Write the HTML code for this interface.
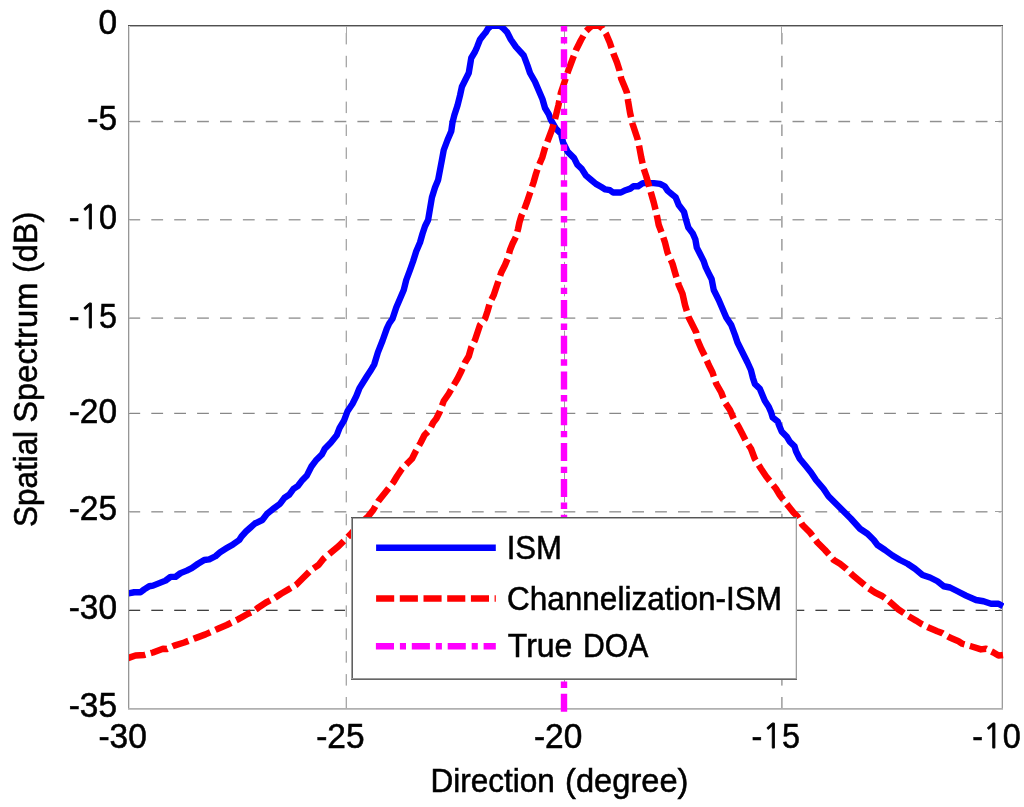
<!DOCTYPE html>
<html><head><meta charset="utf-8"><title>Spatial Spectrum</title>
<style>html,body{margin:0;padding:0;background:#fff;width:1024px;height:807px;overflow:hidden}svg{display:block}text{font-family:'Liberation Sans', Arial, Helvetica, sans-serif;fill:#000;stroke:#000;stroke-width:0.55px}</style>
</head><body>
<svg width="1024" height="807" viewBox="0 0 1024 807">
<rect x="0" y="0" width="1024" height="807" fill="#fff"/>
<defs><clipPath id="ax"><rect x="129" y="26" width="875" height="683"/></clipPath><clipPath id="axm"><rect x="129" y="26" width="873" height="686"/></clipPath></defs>
<rect x="128" y="25" width="1" height="684" fill="#969696"/>
<rect x="129" y="26" width="1" height="682" fill="#dedede"/>
<rect x="1002" y="25" width="1" height="684" fill="#9c9c9c"/>
<rect x="1001" y="26" width="1" height="682" fill="#dedede"/>
<rect x="128" y="25" width="875" height="1" fill="#505050"/>
<rect x="130" y="26" width="871" height="1" fill="#b2b2b2"/>
<rect x="128" y="708" width="875" height="1" fill="#b0b0b0"/>
<rect x="128" y="709" width="875" height="1" fill="#c4c4c4"/>
<g stroke-width="1" fill="none"><line x1="129" y1="121.5" x2="136" y2="121.5" stroke="#909090"/><line x1="1002" y1="121.5" x2="995" y2="121.5" stroke="#909090"/><line x1="129" y1="219.5" x2="136" y2="219.5" stroke="#a0a0a0"/><line x1="1002" y1="219.5" x2="995" y2="219.5" stroke="#a0a0a0"/><line x1="129" y1="318.5" x2="136" y2="318.5" stroke="#a8a8a8"/><line x1="1002" y1="318.5" x2="995" y2="318.5" stroke="#a8a8a8"/><line x1="129" y1="413.5" x2="136" y2="413.5" stroke="#888888"/><line x1="1002" y1="413.5" x2="995" y2="413.5" stroke="#888888"/><line x1="129" y1="511.5" x2="136" y2="511.5" stroke="#a0a0a0"/><line x1="1002" y1="511.5" x2="995" y2="511.5" stroke="#a0a0a0"/><line x1="129" y1="610.5" x2="136" y2="610.5" stroke="#404040"/><line x1="1002" y1="610.5" x2="995" y2="610.5" stroke="#404040"/><line x1="346.5" y1="708" x2="346.5" y2="701" stroke="#a8a8a8"/><line x1="346.5" y1="26" x2="346.5" y2="33" stroke="#a8a8a8"/><line x1="564.5" y1="708" x2="564.5" y2="701" stroke="#a0a0a0"/><line x1="564.5" y1="26" x2="564.5" y2="33" stroke="#a0a0a0"/><line x1="781.5" y1="708" x2="781.5" y2="701" stroke="#a8a8a8"/><line x1="781.5" y1="26" x2="781.5" y2="33" stroke="#a8a8a8"/></g>
<g stroke-width="1" stroke-dasharray="11.8 11.1" stroke-dashoffset="0.6" fill="none"><line x1="129" y1="121.5" x2="1001" y2="121.5" stroke="#909090"/><line x1="129" y1="120.5" x2="1001" y2="120.5" stroke="#e8e8e8"/><line x1="129" y1="122.5" x2="1001" y2="122.5" stroke="#e2e2e2"/><line x1="129" y1="219.5" x2="1001" y2="219.5" stroke="#a0a0a0"/><line x1="129" y1="220.5" x2="1001" y2="220.5" stroke="#d0d0d0"/><line x1="129" y1="318.5" x2="1001" y2="318.5" stroke="#a8a8a8"/><line x1="129" y1="317.5" x2="1001" y2="317.5" stroke="#c0c0c0"/><line x1="129" y1="413.5" x2="1001" y2="413.5" stroke="#888888"/><line x1="129" y1="412.5" x2="1001" y2="412.5" stroke="#e2e2e2"/><line x1="129" y1="511.5" x2="1001" y2="511.5" stroke="#a0a0a0"/><line x1="129" y1="512.5" x2="1001" y2="512.5" stroke="#c8c8c8"/><line x1="129" y1="610.5" x2="1001" y2="610.5" stroke="#404040"/><line x1="129" y1="609.5" x2="1001" y2="609.5" stroke="#c0c0c0"/></g>
<g stroke-width="1" stroke-dasharray="11.5 11.4" stroke-dashoffset="0.5" fill="none"><line x1="346.5" y1="708" x2="346.5" y2="26" stroke="#a8a8a8"/><line x1="345.5" y1="708" x2="345.5" y2="26" stroke="#e0e0e0"/><line x1="564.5" y1="708" x2="564.5" y2="26" stroke="#a0a0a0"/><line x1="781.5" y1="708" x2="781.5" y2="26" stroke="#a8a8a8"/><line x1="782.5" y1="708" x2="782.5" y2="26" stroke="#c0c0c0"/></g>
<g clip-path="url(#ax)" fill="none" stroke-linejoin="round">
<polyline points="128.00,593.50 134.25,592.25 140.50,592.25 144.25,589.40 149.25,586.25 153.00,585.60 159.25,583.10 165.50,580.60 170.50,576.90 175.50,576.90 180.50,573.10 186.75,570.60 191.75,568.10 198.00,563.75 204.25,560.00 209.25,559.40 215.50,556.25 220.50,551.90 226.75,548.10 233.00,544.40 239.25,540.00 241.50,536.50 246.00,531.50 250.50,527.50 254.90,523.50 262.30,520.00 266.80,514.10 274.20,508.10 280.10,503.70 284.60,497.70 289.10,494.80 293.50,488.80 298.00,485.80 302.50,479.90 306.90,475.40 311.40,466.50 315.80,460.60 321.80,454.60 324.80,448.70 330.70,442.70 336.70,435.30 339.60,427.80 344.10,420.40 347.50,411.25 352.50,403.75 356.25,396.25 358.75,390.00 359.50,388.10 366.90,376.20 371.00,370.00 374.30,364.30 377.90,352.40 382.60,340.50 386.80,328.60 389.20,323.50 392.50,318.75 396.25,307.50 400.00,298.75 403.75,290.00 406.25,280.00 410.00,270.00 413.10,261.25 416.25,251.25 420.00,242.50 422.50,233.75 425.00,226.25 428.10,220.00 430.00,208.75 431.90,197.50 435.00,187.50 438.10,180.00 440.00,170.00 441.90,160.00 443.75,150.00 447.50,140.00 451.25,131.25 452.50,122.50 454.40,115.00 457.50,105.50 460.00,95.50 461.90,86.75 465.00,80.50 468.75,73.00 470.00,65.50 471.25,58.00 475.00,51.75 477.10,46.90 480.00,39.50 483.50,35.00 485.90,32.20 488.00,28.50 491.00,25.80 500.00,25.80 503.50,28.50 507.10,32.20 510.80,39.50 515.90,46.90 523.75,55.50 527.50,65.50 530.00,73.00 535.00,81.75 538.75,90.50 542.50,99.25 545.00,108.00 548.75,114.25 551.00,120.00 556.00,128.75 561.00,133.75 563.10,142.50 567.80,151.90 574.10,158.10 577.20,164.40 581.90,169.10 585.80,175.30 591.25,180.00 595.90,183.90 601.40,187.00 605.30,189.40 610.00,190.20 613.10,192.50 620.90,192.50 625.60,190.20 630.30,188.60 633.40,186.25 638.10,186.25 642.80,183.10 647.50,183.10 653.75,183.10 660.00,183.90 664.70,186.25 667.80,190.90 672.50,194.80 675.60,197.20 678.75,205.00 684.00,211.90 686.00,219.80 688.40,227.70 692.90,233.70 695.40,239.60 696.80,247.60 699.80,253.50 703.80,261.40 705.80,267.40 708.70,273.30 711.70,279.30 713.75,290.00 718.75,300.00 722.50,308.75 726.25,317.50 731.25,325.00 735.00,335.00 737.50,342.50 742.50,352.50 747.50,362.50 750.90,370.00 752.90,377.90 754.90,383.90 759.80,388.80 762.30,394.80 764.80,400.70 768.70,406.70 771.20,412.60 772.70,417.60 777.70,421.50 779.60,426.50 781.60,431.40 786.60,436.40 789.60,441.40 794.50,446.30 796.00,451.25 799.75,458.75 806.00,466.25 811.00,472.50 816.00,480.00 823.50,488.75 828.50,496.25 836.00,503.75 843.50,511.25 851.00,518.75 860.00,528.75 867.50,533.75 873.75,540.00 877.50,545.00 885.00,550.00 892.50,555.50 900.00,560.00 907.50,563.75 915.00,568.75 922.50,575.00 930.00,577.50 937.50,581.25 943.75,586.25 950.00,587.50 957.50,591.25 966.00,595.60 976.00,600.00 983.50,601.25 991.00,603.75 998.50,603.75 1003.00,606.25" stroke="#0000ff" stroke-width="6.4" stroke-linecap="butt"/>
<path d="M128.00 658.10 L135.50 655.50 L144.25 655.00 L145.35 654.68 M150.74 653.15 L153.00 652.50 L163.00 648.75 L166.75 649.00 L167.40 648.70 M172.50 646.39 L174.25 645.60 L184.25 642.50 L188.43 640.86 M193.65 638.82 L195.50 638.10 L205.50 634.40 L210.33 632.22 M215.43 629.91 L218.00 628.75 L226.75 625.00 L231.25 622.76 M236.26 620.27 L238.00 619.40 L248.00 613.75 L250.92 612.44 M255.68 609.55 L258.50 607.50 L266.00 602.50 L270.18 600.41 M275.07 597.71 L281.00 593.75 L288.50 589.40 L290.82 588.04 M295.65 585.21 L296.00 585.00 L303.50 577.50 L309.17 571.83 M313.50 568.33 L318.50 565.00 L323.50 558.75 L324.94 557.55 M329.24 553.97 L331.00 552.50 L338.50 546.25 L343.82 540.93 M347.78 536.97 L351.00 533.75 L360.00 524.00 L360.03 523.97 M364.11 520.14 L368.25 516.25 L373.25 510.00 L375.33 506.36 M378.11 501.50 L378.25 501.25 L383.25 495.00 L388.25 488.75 L388.70 488.19 M392.19 483.82 L393.25 482.50 L397.00 476.25 L402.00 468.75 L402.20 468.55 M406.15 464.60 L407.00 463.75 L412.00 458.75 L415.75 451.25 L416.28 450.32 M419.06 445.45 L420.75 442.50 L424.50 435.00 L427.90 431.60 M430.99 427.02 L433.25 422.50 L436.25 418.75 L440.00 411.25 L440.10 410.97 M442.03 405.71 L443.75 401.00 L448.75 393.75 L451.09 389.66 M453.87 384.80 L457.50 378.75 L461.25 371.25 L462.48 368.38 M464.69 363.23 L465.00 362.50 L468.75 356.25 L471.25 347.50 L471.61 346.78 M474.11 341.78 L475.00 340.00 L477.50 332.50 L480.00 325.00 L480.68 324.15 M484.18 319.78 L485.00 318.75 L487.50 311.25 L489.38 304.68 M491.49 299.52 L493.75 295.00 L496.25 287.50 L498.36 281.16 M500.14 275.84 L501.25 272.50 L505.00 265.00 L507.49 258.97 M509.09 253.61 L510.00 250.00 L512.50 243.75 L515.80 237.15 M517.35 231.79 L518.10 228.75 L519.40 222.50 L521.25 216.25 L522.17 214.15 M524.37 209.01 L527.25 201.25 L529.75 193.75 L530.29 192.12 M532.07 186.80 L533.50 182.50 L536.00 173.75 L537.42 169.49 M539.36 164.24 L542.25 157.50 L544.75 148.75 L545.35 147.15 M547.32 141.90 L548.50 138.75 L552.25 128.75 L553.49 124.41 M555.00 119.02 L558.50 105.00 L559.35 100.73 M560.45 95.24 L561.00 92.50 L564.75 81.25 L565.64 78.58 M567.41 73.27 L568.50 70.00 L572.25 60.00 L573.81 55.83 M575.78 50.58 L576.00 50.00 L581.00 40.00 L583.43 35.75 M586.29 30.96 L589.00 28.20 L592.00 25.80 L599.00 25.80 L602.50 28.50 L602.53 28.55 M605.64 33.21 L606.00 33.75 L609.75 42.50 L611.57 47.96 M613.34 53.27 L613.50 53.75 L617.00 62.50 L619.40 70.00 L619.58 70.85 M620.74 76.33 L621.25 78.75 L624.40 86.25 L626.90 92.50 L627.04 93.49 M627.80 99.04 L628.10 101.25 L630.00 112.50 L631.07 117.32 M632.29 122.78 L632.50 123.75 L635.00 131.25 L637.50 138.75 L637.81 140.17 M639.00 145.64 L639.40 147.50 L641.25 157.50 L642.58 163.50 M643.82 168.96 L646.25 176.25 L648.75 185.00 L649.19 186.55 M650.73 191.93 L651.25 193.75 L653.75 202.50 L655.53 209.63 M656.77 215.09 L658.75 225.00 L661.44 232.18 M663.32 237.46 L665.00 242.50 L667.50 252.50 L668.53 254.82 M670.81 259.94 L672.50 263.75 L675.00 272.50 L676.42 277.25 M678.03 282.61 L678.75 285.00 L682.50 293.75 L685.00 305.00 L686.80 310.99 M688.41 316.35 L688.75 317.50 L692.50 325.00 L696.25 332.50 L696.40 333.39 M697.32 338.91 L697.50 340.00 L701.25 348.75 L704.63 355.51 M706.88 360.64 L708.75 365.00 L712.50 372.50 L713.81 376.43 M715.58 381.74 L716.25 383.75 L721.25 392.50 L723.39 398.21 M725.57 403.35 L730.00 410.00 L733.71 418.65 M736.60 423.45 L738.75 427.00 L742.25 433.75 L745.39 440.02 M748.35 444.77 L751.00 448.75 L754.75 458.75 L755.72 460.31 M758.69 465.06 L761.00 468.75 L766.00 476.25 L769.70 480.88 M773.20 485.25 L776.00 488.75 L779.75 495.00 L783.33 499.77 M786.82 504.15 L788.50 506.25 L793.50 512.50 L797.25 516.25 L798.46 518.26 M801.34 523.06 L802.50 525.00 L810.00 532.50 L812.48 535.81 M815.84 540.29 L817.50 542.50 L825.00 550.00 L828.92 554.48 M832.60 558.69 L833.75 560.00 L840.00 563.75 L846.25 568.75 L846.62 569.12 M850.58 573.08 L852.50 575.00 L860.00 581.25 L864.59 585.07 M869.00 588.50 L875.00 592.50 L882.50 596.25 L884.68 597.90 M889.11 601.32 L898.50 609.50 L903.92 613.16 M908.57 616.29 L916.00 620.60 L921.00 623.75 L922.52 624.51 M927.52 627.01 L928.50 627.50 L937.25 631.25 L942.25 633.10 L943.01 633.54 M947.84 636.38 L949.75 637.50 L958.50 641.25 L962.25 643.75 L964.51 644.40 M969.90 645.93 L971.00 646.25 L981.00 649.40 L986.00 648.75 L986.50 649.00 M991.50 651.50 L993.50 652.50 L998.50 655.60 L1003.00 655.00" stroke="#ff0000" stroke-width="6.5" stroke-linecap="butt"/>
</g>
<g clip-path="url(#axm)"><line x1="564" y1="711.7" x2="564" y2="0" stroke="#ff00ff" stroke-width="6.4" stroke-dasharray="18 5.8 6.4 5.6" fill="none"/></g>
<rect x="351" y="517" width="446" height="163" fill="#fff"/>
<rect x="351" y="517" width="446" height="1" fill="#555555"/>
<rect x="352" y="518" width="444" height="1" fill="#b0b0b0"/>
<rect x="352" y="517" width="1" height="163" fill="#606060"/>
<rect x="351" y="518" width="1" height="161" fill="#a0a0a0"/>
<rect x="796" y="517" width="1" height="163" fill="#a0a0a0"/>
<rect x="795" y="519" width="1" height="159" fill="#e2e2e2"/>
<rect x="352" y="678" width="445" height="1" fill="#9a9a9a"/>
<rect x="351" y="679" width="446" height="1" fill="#666666"/>
<line x1="376.1" y1="547.8" x2="495.8" y2="547.8" stroke="#0000ff" stroke-width="6.4"/>
<line x1="376.1" y1="598.5" x2="495.8" y2="598.5" stroke="#ff0000" stroke-width="6.5" stroke-dasharray="18.1 5.6"/>
<line x1="375.9" y1="646.2" x2="495.8" y2="646.2" stroke="#ff00ff" stroke-width="6.4" stroke-dasharray="18.1 5.9 6.1 5.8"/>
<text x="506.7" y="559.4" font-size="33.5" textLength="55.3" lengthAdjust="spacingAndGlyphs">ISM</text>
<text x="507" y="610.2" font-size="33.5" textLength="275" lengthAdjust="spacingAndGlyphs">Channelization-ISM</text>
<text x="507.8" y="657.4" font-size="33.5" textLength="64.6" lengthAdjust="spacingAndGlyphs">True</text>
<text x="583" y="657.4" font-size="33.5" textLength="65.4" lengthAdjust="spacingAndGlyphs">DOA</text>
<text x="117.1" y="34.2" font-size="34.5" text-anchor="end" textLength="18.61" lengthAdjust="spacingAndGlyphs">0</text>
<text x="117.1" y="129.9" font-size="34.5" text-anchor="end" textLength="29.75" lengthAdjust="spacingAndGlyphs">-5</text>
<text x="117.1" y="228.5" font-size="34.5" text-anchor="end" textLength="48.36" lengthAdjust="spacingAndGlyphs">-<tspan style="font-family:'NanumGothic','Liberation Sans',sans-serif;stroke-width:0.9px">1</tspan>0</text>
<text x="117.1" y="327.6" font-size="34.5" text-anchor="end" textLength="48.36" lengthAdjust="spacingAndGlyphs">-<tspan style="font-family:'NanumGothic','Liberation Sans',sans-serif;stroke-width:0.9px">1</tspan>5</text>
<text x="117.1" y="422.6" font-size="34.5" text-anchor="end" textLength="48.36" lengthAdjust="spacingAndGlyphs">-20</text>
<text x="117.1" y="520.4" font-size="34.5" text-anchor="end" textLength="48.36" lengthAdjust="spacingAndGlyphs">-25</text>
<text x="117.1" y="619.1" font-size="34.5" text-anchor="end" textLength="48.36" lengthAdjust="spacingAndGlyphs">-30</text>
<text x="117.1" y="717.3" font-size="34.5" text-anchor="end" textLength="48.36" lengthAdjust="spacingAndGlyphs">-35</text>
<text x="122.6" y="747.6" font-size="34.5" text-anchor="middle" textLength="48.36" lengthAdjust="spacingAndGlyphs">-30</text>
<text x="340.4" y="747.6" font-size="34.5" text-anchor="middle" textLength="48.36" lengthAdjust="spacingAndGlyphs">-25</text>
<text x="558.1" y="747.6" font-size="34.5" text-anchor="middle" textLength="48.36" lengthAdjust="spacingAndGlyphs">-20</text>
<text x="775.8" y="747.6" font-size="34.5" text-anchor="middle" textLength="48.36" lengthAdjust="spacingAndGlyphs">-<tspan style="font-family:'NanumGothic','Liberation Sans',sans-serif;stroke-width:0.9px">1</tspan>5</text>
<text x="996.5" y="747.6" font-size="34.5" text-anchor="middle" textLength="48.36" lengthAdjust="spacingAndGlyphs">-<tspan style="font-family:'NanumGothic','Liberation Sans',sans-serif;stroke-width:0.9px">1</tspan>0</text>
<text x="430.4" y="792.2" font-size="33.5" textLength="124.4" lengthAdjust="spacingAndGlyphs">Direction</text>
<text x="565.1" y="792.2" font-size="33.5" textLength="123.3" lengthAdjust="spacingAndGlyphs">(degree)</text>
<text transform="translate(37 526.9) rotate(-90)" x="0" y="0" font-size="33.5" textLength="96" lengthAdjust="spacingAndGlyphs">Spatial</text>
<text transform="translate(37 422.8) rotate(-90)" x="0" y="0" font-size="33.5" textLength="140.2" lengthAdjust="spacingAndGlyphs">Spectrum</text>
<text transform="translate(37 272.9) rotate(-90)" x="0" y="0" font-size="33.5" textLength="61.1" lengthAdjust="spacingAndGlyphs">(dB)</text>
</svg></body></html>
